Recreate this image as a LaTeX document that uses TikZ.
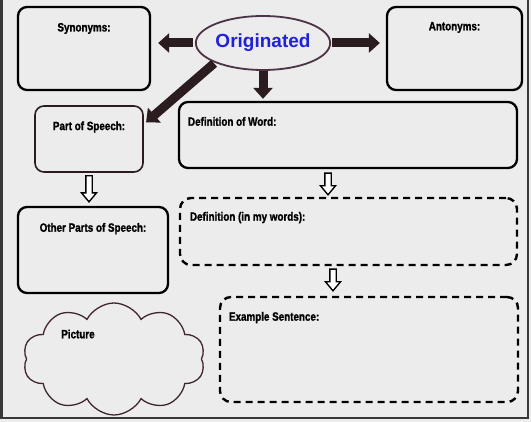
\documentclass[tikz,border=0pt]{standalone}
\usepackage{fontspec}
\setmainfont{Liberation Sans}
\newfontfamily\lblfont[FakeStretch=0.82,FakeBold=1.4]{Liberation Sans}
\usetikzlibrary{arrows.meta,positioning,calc,shapes.geometric,shapes.symbols}
\definecolor{pagegray}{rgb}{0.925,0.925,0.925}
\definecolor{framegray}{rgb}{0.22,0.22,0.22}
\definecolor{arrowdark}{rgb}{0.17,0.11,0.12}
\definecolor{ovalrim}{rgb}{0.30,0.20,0.27}
\definecolor{wordblue}{rgb}{0.13,0.13,0.85}
\definecolor{cloudrim}{rgb}{0.25,0.15,0.20}
% open block arrow pointing down, from #1 to #2
\newcommand{\openarrow}[2]{%
  \draw[line width=1.4pt, fill=white, line join=miter]
    let \p1=(#1), \p2=(#2) in
    (\x1-3.2pt,\y1) -- (\x1-3.2pt,\y2+9pt) -- (\x1-7.5pt,\y2+9pt) -- (\x1,\y2)
    -- (\x1+7.5pt,\y2+9pt) -- (\x1+3.2pt,\y2+9pt) -- (\x1+3.2pt,\y1) -- cycle;}

\begin{document}
\begin{tikzpicture}[x=1pt,y=-1pt,
  box/.style={draw, line width=2.3pt, rounded corners=9pt},
  dashbox/.style={draw, line width=2.4pt, rounded corners=11pt, dash pattern=on 7pt off 5pt},
  lbl/.style={font=\lblfont\bfseries\fontsize{12}{14}\selectfont, inner sep=0pt},
  fatarrow/.style={draw=arrowdark, line width=9pt, -{Triangle[length=11pt,width=19pt]}}
  ]
  \useasboundingbox (0,0) rectangle (531,422);

  % page
  \fill[pagegray] (0,0) rectangle (531,422);
  \draw[framegray, line width=2.5pt] (1.5,0) -- (1.5,418) -- (528,418) -- (528,0);

  % word in the middle
  \node[ellipse, draw=ovalrim, line width=1.8pt, minimum width=127pt, minimum height=54pt,
    inner sep=0pt, text=wordblue, font=\bfseries\fontsize{19}{20}\selectfont] (orig) at (263,43) {Originated};

  % top boxes
  \node[box, minimum width=132pt, minimum height=83pt] (syn) at (84,48.5) {};
  \node[lbl, below=17pt of syn.north] (synlbl) {Synonyms:};
  \node[box, minimum width=135pt, minimum height=83pt] (ant) at (454.5,48.5) {};
  \node[lbl, below=16pt of ant.north] (antlbl) {Antonyms:};

  % second row
  \node[box, draw=arrowdark, line width=1.6pt, minimum width=108pt, minimum height=66pt] (pos) at (89,139) {};
  \node[lbl, below=16pt of pos.north] (poslbl) {Part of Speech:};
  \node[box, minimum width=338pt, minimum height=66pt] (defw) at (348,135) {};
  \node[lbl, anchor=north west] (defwlbl) at ([shift={(10,16)}]defw.north west) {Definition of Word:};

  % third row
  \node[box, minimum width=150pt, minimum height=86pt] (oth) at (93,250) {};
  \node[lbl, below=17pt of oth.north] (othlbl) {Other Parts of Speech:};
  \node[dashbox, minimum width=337pt, minimum height=67pt] (dw) at (348.5,231.5) {};
  \node[lbl, anchor=north west] (dwlbl) at ([shift={(11,15)}]dw.north west) {Definition (in my words):};

  % bottom
  \node[cloud, draw=cloudrim, line width=1.3pt, cloud puffs=10, cloud puff arc=125, aspect=1.6,
    minimum width=182pt, minimum height=112pt, inner sep=0pt] (pic) at (114,359) {};
  \node[lbl] (piclbl) at (78,334) {Picture};
  \node[dashbox, minimum width=298pt, minimum height=105pt] (ex) at (369,349.5) {};
  \node[lbl, anchor=north west] (exlbl) at ([shift={(10,16)}]ex.north west) {Example Sentence:};

  % solid arrows from the word
  \draw[fatarrow, shorten <=2pt, shorten >=7pt] (orig.west) -- (orig.west -| syn.east);
  \draw[fatarrow, shorten <=1pt, shorten >=6pt] (orig.east) -- (orig.east -| ant.west);
  \draw[fatarrow, shorten >=2pt] (orig.south) -- (orig.south |- defw.north);
  \draw[fatarrow, shorten <=1pt, shorten >=3pt] (orig.south west) -- (pos.15);

  % open arrows
  \coordinate (posout) at ([shift={(0,3)}]pos.south);
  \coordinate (othin) at ([shift={(0,-4)}]pos.south |- oth.north);
  \openarrow{posout}{othin}
  \coordinate (defwout) at ([shift={(-20,4)}]defw.south);
  \coordinate (dwin) at ([shift={(-20,-2)}]defw.south |- dw.north);
  \openarrow{defwout}{dwin}
  \coordinate (dwout) at ([shift={(-15.5,3)}]dw.south);
  \coordinate (exin) at ([shift={(-15.5,-5)}]dw.south |- ex.north);
  \openarrow{dwout}{exin}
\end{tikzpicture}
\end{document}
